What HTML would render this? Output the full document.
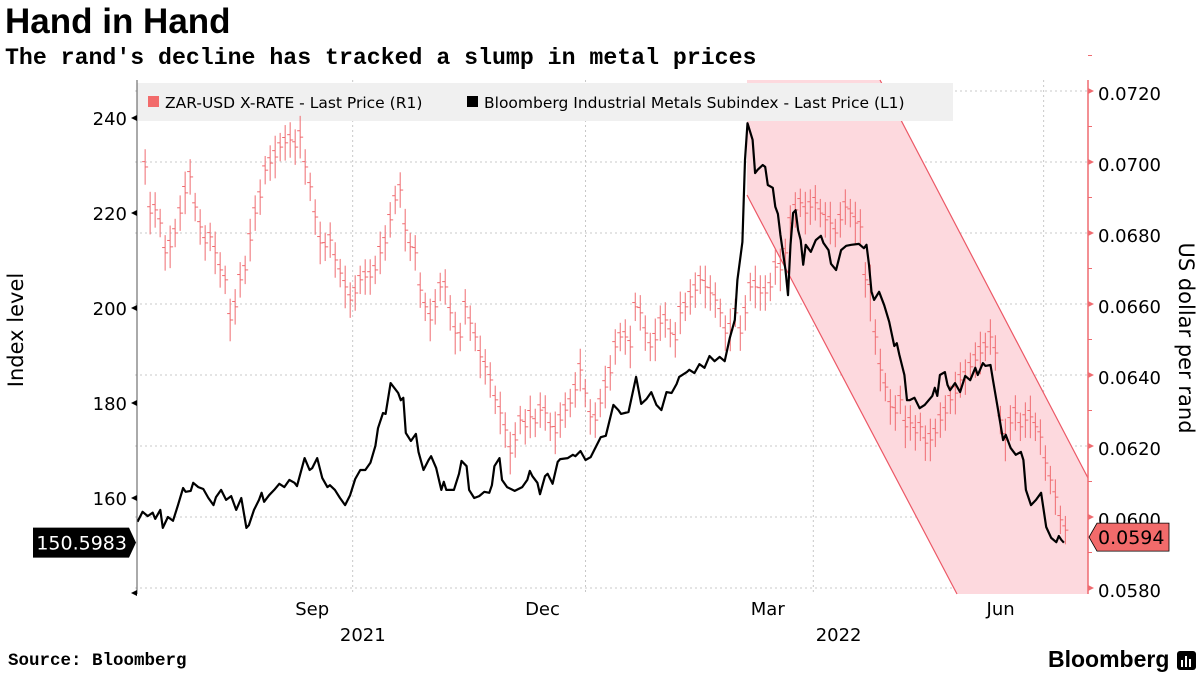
<!DOCTYPE html>
<html><head><meta charset="utf-8">
<style>
body{margin:0;background:#fff;width:1200px;height:675px;overflow:hidden;font-family:"Liberation Sans",sans-serif}
#title{position:absolute;left:5px;top:2px;font:bold 35px "Liberation Sans",sans-serif;color:#000}
#subtitle{position:absolute;left:5px;top:45px;font:bold 23.2px "Liberation Mono",monospace;letter-spacing:0;color:#000}
#source{position:absolute;left:8px;top:651px;font:bold 17.5px "Liberation Mono",monospace;color:#000}
#logo{position:absolute;left:1048px;top:646px;font:bold 23px "Liberation Sans",sans-serif;color:#000}
</style></head><body>
<div id="title">Hand in Hand</div>
<div id="subtitle">The rand's decline has tracked a slump in metal prices</div>
<svg id="chart" width="1200" height="675" style="position:absolute;left:0;top:0;font-family:'DejaVu Sans',sans-serif" xmlns="http://www.w3.org/2000/svg"></svg>
<div id="source">Source: Bloomberg</div>
<div id="logo">Bloomberg</div>
<script>
// ---- data ----
const leftTicks=[160,180,200,220,240];
const rightTicks=[0.0580,0.0600,0.0620,0.0640,0.0660,0.0680,0.0700,0.0720];
const monthLabels=["Sep","Dec","Mar","Jun"];
const monthLabelDays=[70,161,250,342];
const quarterGridDays=[86,178,268,359];
const yearLabels=["2021","2022"];
const yearLabelDays=[90,278];
// Bloomberg Industrial Metals Subindex (left axis): day offsets and values
const metalDays=[1,3,5,7,8,10,11,13,15,17,19,20,22,23,25,27,29,31,32,34,36,38,40,42,44,45,47,49,50,51,53,55,57,59,61,63,64,67,69,70,72,74,76,77,79,81,83,85,87,89,91,93,95,96,98,99,101,104,105,106,107,109,111,112,114,116,117,119,121,122,123,126,128,129,131,132,134,136,138,140,141,142,144,145,147,150,153,155,156,157,159,160,162,163,165,167,168,171,173,174,176,178,180,184,186,189,191,192,195,198,200,202,204,206,208,210,212,214,215,218,219,221,223,225,227,229,231,233,235,237,238,240,241,242,244,245,246,248,249,250,252,253,254,255,257,258,259,260,261,262,263,264,265,267,269,271,272,274,275,277,279,281,283,286,288,289,290,291,292,294,296,298,300,301,302,304,305,306,308,310,312,315,316,317,318,320,321,322,324,326,328,330,332,333,335,336,338,339,341,343,344,346,348,350,351,352,354,356,358,360,362,364,365,366,367];
const metalVals=[155.0,157.1,156.2,156.9,155.6,157.5,153.7,156.0,155.2,158.5,162.1,161.3,161.5,163.2,162.3,161.9,160.0,158.5,160.2,161.7,159.6,160.4,157.5,160.0,153.7,154.3,157.5,159.6,161.1,159.2,160.6,161.7,163.0,162.3,163.8,163.2,162.5,168.4,165.9,166.3,168.4,164.2,162.3,162.7,161.7,160.0,158.5,160.6,164.0,165.9,165.9,167.4,171.0,174.7,177.9,177.7,184.2,182.1,180.6,181.1,173.7,172.0,173.5,169.7,165.9,168.0,168.8,166.3,161.7,163.4,161.7,161.7,165.1,167.8,166.7,161.7,160.0,160.4,161.3,161.1,162.7,166.7,168.4,163.8,162.3,161.5,162.3,163.8,165.7,164.6,163.2,160.8,164.6,165.1,163.0,167.6,168.2,168.4,169.1,168.8,169.9,168.0,168.6,172.8,173.1,179.6,178.5,177.7,178.1,185.5,179.8,180.8,182.3,179.6,178.5,182.3,182.1,184.0,185.5,186.5,187.0,186.3,188.2,187.4,189.9,188.8,189.7,188.8,193.7,197.5,205.9,213.9,231.2,238.9,235.4,228.4,229.1,230.1,229.7,225.9,225.3,221.3,219.8,215.4,208.0,202.7,213.3,220.0,220.6,216.4,214.3,209.1,213.3,211.8,214.3,215.2,213.7,212.2,209.3,208.0,212.2,213.1,213.3,213.5,212.6,213.3,209.1,203.4,201.7,203.4,200.6,197.1,192.0,192.6,190.1,185.9,180.6,180.6,181.1,178.9,179.6,181.5,183.2,181.5,185.9,186.5,183.8,182.7,184.2,182.3,185.7,184.8,187.4,185.9,188.4,187.8,188.0,184.8,178.5,172.2,173.3,170.5,169.1,169.7,168.0,161.7,158.5,159.6,161.1,153.9,151.6,150.7,152.0,151.2,150.6];
// ZAR-USD (right axis), closes in units of 0.0001 USD, one bar every ~2 days from day 4
const zarClose=[698.6,685.6,686.5,682.8,674.4,676.1,680.0,685.6,691.3,695.8,687.3,681.7,677.2,678.9,674.4,669.6,666.8,655.5,659.2,666.8,669.6,678.0,685.6,690.1,697.7,699.7,701.4,704.2,705.4,706.2,704.2,707.0,698.6,693.0,684.5,677.2,676.1,678.0,672.4,668.7,664.8,661.1,663.1,666.8,667.6,667.6,669.6,674.4,677.2,683.7,689.3,692.1,680.8,676.1,674.4,663.9,659.2,655.5,659.2,664.8,664.8,657.5,651.8,650.7,659.2,654.6,650.7,645.1,642.3,638.6,633.0,629.3,624.5,618.0,621.7,627.3,625.4,628.2,626.5,630.1,629.3,625.4,623.7,627.3,630.1,632.1,635.8,641.4,634.9,628.2,627.3,632.1,636.6,640.6,647.9,650.7,650.7,647.9,659.2,657.5,651.8,647.9,649.9,654.6,655.5,651.8,649.9,657.5,659.2,662.0,663.9,666.8,664.8,663.1,661.1,657.5,651.8,652.7,657.5,651.8,657.5,664.8,664.8,663.1,663.1,664.8,670.4,669.6,674.4,682.8,686.5,688.5,685.6,687.3,688.5,685.6,683.7,682.8,680.0,683.7,687.3,685.6,682.8,681.7,666.8,663.1,650.7,641.4,636.6,631.0,629.3,633.0,625.4,626.5,623.7,625.4,620.8,621.7,623.7,627.3,629.3,633.0,634.9,638.6,639.4,642.3,644.2,646.2,647.9,650.7,646.2,627.3,621.7,626.5,629.3,625.4,627.3,628.2,625.4,622.5,615.2,610.4,605.6,599.2,596.3];
const zarHalfRange=[5,6,5,4,5,6,4,5,6,5,4,5,5,4,6,5,4,6,5,5,4,6,5,5,4,5,6,4,5,5,5,6,5,4,5,6,4,5,5,4,6,5,5,4,5,5,4,6,5,5,4,5,6,4,5,5,4,6,5,4,5,5,6,4,5,5,4,6,5,5,4,6,5,6,5,4,5,6,4,5,5,4,6,5,5,4,5,6,4,5,5,4,6,5,5,4,5,6,4,5,5,4,6,5,5,4,5,6,4,5,5,4,6,5,5,4,5,6,4,5,5,4,6,5,5,4,5,6,4,5,5,4,6,5,5,4,5,6,4,5,5,4,6,5,5,8,5,6,4,5,5,4,6,5,5,4,5,6,4,5,5,4,6,5,5,4,5,6,4,5,5,4,6,5,5,4,5,6,4,5,5,4,5,4,4];
const lastMetal="150.5983", lastZar="0.0594";

// ---- scales ----
const X0=135, PX_DAY=2.531, PT=80, PB=594, PR=1088;
const x=d=>X0+d*PX_DAY;
const yL=v=>118+(240-v)*4.75;
const yR=v=>162+(0.0700-v)*35500;
const zarStartDay=4, zarStepDays=1.976;

const svg=document.getElementById('chart');
const NS='http://www.w3.org/2000/svg';
function mk(tag,attrs,parent){const e=document.createElementNS(NS,tag);for(const k in attrs)e.setAttribute(k,attrs[k]);(parent||svg).appendChild(e);return e;}

// gridlines
const grid=mk('g',{});


rightTicks.forEach(v=>{mk('line',{x1:X0,x2:PR,y1:yR(v),y2:yR(v),stroke:'#c8c8c8','stroke-dasharray':'2,3','stroke-width':1},grid);});
quarterGridDays.forEach(d=>{mk('line',{x1:x(d),x2:x(d),y1:PT,y2:PB,stroke:'#c8c8c8','stroke-dasharray':'2,3','stroke-width':1},grid);});

// shaded channel
const ch=mk('polygon',{points:`747,${PT} 880,${PT} ${PR},478 ${PR},${PB} 957,${PB} 747,195`,fill:'#fdd9de',stroke:'none'});


mk('line',{x1:880,y1:PT,x2:PR,y2:478,stroke:'#ec5866','stroke-width':1.2});
mk('line',{x1:747,y1:195,x2:957,y2:PB,stroke:'#ec5866','stroke-width':1.2});

// legend
const lg=mk('g',{});


mk('rect',{x:137,y:83,width:816,height:38,fill:'#f0f0f0'},lg);
mk('rect',{x:148,y:96,width:11,height:11,fill:'#f26b6b'},lg);
const t1=mk('text',{x:165,y:108,'font-size':15.5,fill:'#000'},lg);t1.textContent='ZAR-USD X-RATE - Last Price (R1)';


mk('rect',{x:467,y:96,width:11,height:11,fill:'#000'},lg);
const t2=mk('text',{x:484,y:108,'font-size':15.5,fill:'#000'},lg);t2.textContent='Bloomberg Industrial Metals Subindex - Last Price (L1)';



// red OHLC bars
const bars=mk('g',{stroke:'#ef6b70','stroke-width':1});


zarClose.forEach((c,i)=>{
  const cx=x(zarStartDay+i*zarStepDays), cv=c/10000, h=(zarHalfRange[i]||5)/10000;
  const b=mk('line',{x1:cx,x2:cx,y1:yR(cv+h),y2:yR(cv-h)},bars);
  
  mk('line',{x1:cx,x2:cx+3,y1:yR(cv),y2:yR(cv)},bars);
  mk('line',{x1:cx-3,x2:cx,y1:yR(cv+h*0.3),y2:yR(cv+h*0.3)},bars);
});

// black line
const pts=metalDays.map((d,i)=>x(d).toFixed(1)+','+yL(metalVals[i]).toFixed(1)).join(' ');
const ml=mk('polyline',{points:pts,fill:'none',stroke:'#000','stroke-width':2.2,'stroke-linejoin':'round'});



// left axis
const la=mk('g',{});


mk('line',{x1:X0+2,x2:X0+2,y1:PT,y2:PB,stroke:'#555','stroke-width':1},la);
leftTicks.concat([140]).forEach(v=>{mk('polygon',{points:`${X0+2},${yL(v)-3} ${X0+2},${yL(v)+3} ${X0-4},${yL(v)}`,fill:'#000'},la);});
leftTicks.forEach(v=>{const t=mk('text',{x:127,y:yL(v)+7,'font-size':18,'text-anchor':'end',fill:'#000'},la);t.textContent=v;});
const lt=mk('text',{x:0,y:0,'font-size':21,'text-anchor':'middle',transform:'translate(23,330) rotate(-90)',fill:'#000'});
lt.textContent='Index level';



// right axis
const ra=mk('g',{});


mk('line',{x1:PR,x2:PR,y1:PT,y2:PB,stroke:'#ef6b70','stroke-width':1.5},ra);
rightTicks.forEach(v=>{
  mk('polygon',{points:`${PR},${yR(v)-3} ${PR},${yR(v)+3} ${PR+6},${yR(v)}`,fill:'#ef6b70'},ra);
  mk('line',{x1:PR,x2:PR+4,y1:yR(v+0.001),y2:yR(v+0.001),stroke:'#ef6b70'},ra);
  const t=mk('text',{x:1098,y:yR(v)+9,'font-size':18,fill:'#000'},ra);t.textContent=v.toFixed(4);
});
const rt=mk('text',{x:0,y:0,'font-size':21,'text-anchor':'middle',transform:'translate(1179,338) rotate(90)',fill:'#000'});
rt.textContent='US dollar per rand';



// x axis labels
const xa=mk('g',{});


monthLabels.forEach((m,i)=>{const t=mk('text',{x:x(monthLabelDays[i]),y:615,'font-size':18,'text-anchor':'middle',fill:'#000'},xa);t.textContent=m;});
yearLabels.forEach((m,i)=>{const t=mk('text',{x:x(yearLabelDays[i]),y:641,'font-size':18,'text-anchor':'middle',fill:'#000'},xa);t.textContent=m;});

// value tags
const lastM=metalVals[metalVals.length-1], ly=yL(lastM);
const tg1=mk('g',{});


mk('polygon',{points:`33,${ly-15} 129,${ly-15} 136,${ly} 129,${ly+15} 33,${ly+15}`,fill:'#000'},tg1);
const tv1=mk('text',{x:127,y:ly+7,'font-size':19,'text-anchor':'end',fill:'#fff'},tg1);tv1.textContent=lastMetal;
const lastZ=zarClose[zarClose.length-1]/10000, zy=yR(lastZ)+7;
const tg2=mk('g',{});


mk('polygon',{points:`1089,${zy} 1097,${zy-14} 1169,${zy-14} 1169,${zy+14} 1097,${zy+14}`,fill:'#f26b6b',stroke:'#000','stroke-width':0.8},tg2);
const tv2=mk('text',{x:1098,y:zy+7,'font-size':19,fill:'#000'},tg2);tv2.textContent=lastZar;

// logo icon
const lgI=mk('g',{});


mk('rect',{x:1177,y:651,width:19,height:19,rx:3,fill:'#000'},lgI);
mk('rect',{x:1181,y:660,width:2,height:7,fill:'#fff'},lgI);
mk('rect',{x:1185,y:656,width:2,height:11,fill:'#fff'},lgI);
mk('rect',{x:1189,y:659,width:2,height:8,fill:'#fff'},lgI);
</script>
</body></html>
